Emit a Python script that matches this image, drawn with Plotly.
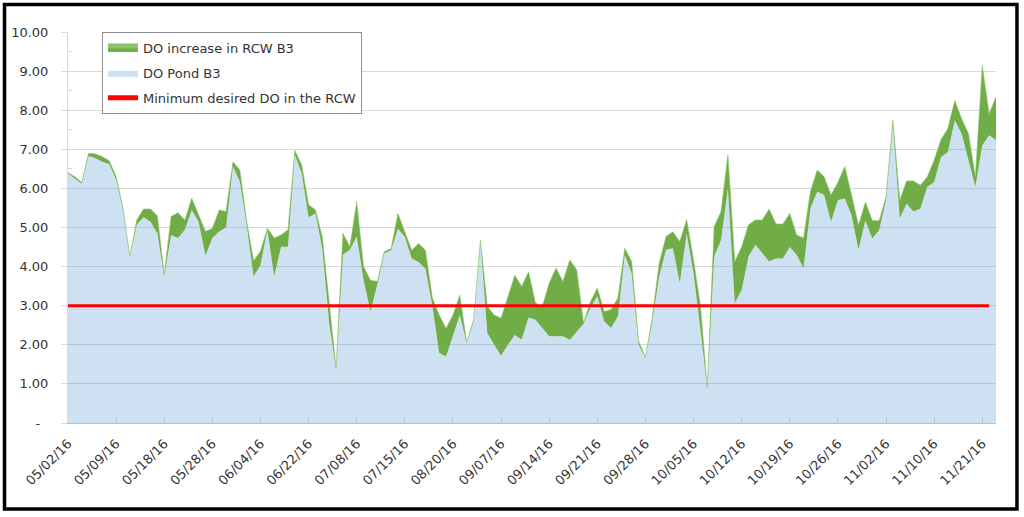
import plotly.graph_objects as go

# ---- data ----
day_index = list(range(136))

tick_labels = ["05/02/16", "05/09/16", "05/18/16", "05/28/16", "06/04/16",
               "06/22/16", "07/08/16", "07/15/16", "08/20/16", "09/07/16",
               "09/14/16", "09/21/16", "09/28/16", "10/05/16", "10/12/16",
               "10/19/16", "10/26/16", "11/02/16", "11/10/16", "11/21/16"]

do_pond_b3 = [6.38, 6.25, 6.12, 6.83, 6.77, 6.68, 6.62, 6.22, 5.45, 4.24,
              5.07, 5.26, 5.15, 4.85, 3.75, 4.81, 4.73, 4.94, 5.45, 5.15,
              4.28, 4.73, 4.90, 5.00, 6.56, 6.17, 5.05, 3.75, 4.04, 4.94,
              3.75, 4.51, 4.51, 6.86, 6.39, 5.26, 5.36, 4.45, 2.55, 1.36,
              4.30, 4.43, 4.77, 3.66, 2.85, 3.55, 4.34, 4.42, 4.97, 4.76,
              4.21, 4.12, 3.95, 3.00, 1.79, 1.70, 2.25, 2.76, 2.04, 2.60,
              4.65, 2.30, 2.00, 1.72, 2.00, 2.25, 2.13, 2.70, 2.64, 2.43,
              2.22, 2.22, 2.22, 2.13, 2.35, 2.54, 2.95, 3.24, 2.60, 2.43,
              2.73, 4.30, 3.83, 2.00, 1.66, 2.60, 3.75, 4.43, 4.47, 3.58,
              4.85, 3.83, 2.40, 0.88, 4.26, 4.68, 6.00, 3.06, 3.41, 4.26,
              4.56, 4.34, 4.13, 4.21, 4.21, 4.50, 4.30, 3.96, 5.49, 5.92,
              5.83, 5.15, 5.70, 5.74, 5.31, 4.43, 5.18, 4.72, 4.93, 5.70,
              7.65, 5.23, 5.61, 5.41, 5.48, 6.04, 6.16, 6.80, 6.93, 7.74,
              7.40, 6.72, 6.05, 7.10, 7.36, 7.23]

do_increase_rcw_b3 = [0.02, 0.05, 0.03, 0.07, 0.11, 0.13, 0.09, 0.08, 0.05, 0.02,
                      0.12, 0.21, 0.32, 0.45, 0.05, 0.47, 0.65, 0.25, 0.30, 0.17,
                      0.62, 0.25, 0.55, 0.41, 0.12, 0.30, 0.10, 0.40, 0.35, 0.04,
                      0.98, 0.30, 0.43, 0.11, 0.21, 0.32, 0.09, 0.30, 0.55, 0.04,
                      0.55, 0.08, 0.89, 0.34, 0.80, 0.07, 0.04, 0.04, 0.39, 0.13,
                      0.21, 0.47, 0.47, 0.20, 0.97, 0.72, 0.51, 0.51, 0.02, 0.04,
                      0.03, 0.68, 0.76, 0.96, 1.23, 1.53, 1.36, 1.17, 0.43, 0.55,
                      1.36, 1.74, 1.40, 2.04, 1.57, 0.02, 0.15, 0.21, 0.25, 0.47,
                      0.47, 0.17, 0.30, 0.10, 0.02, 0.10, 0.34, 0.34, 0.42, 1.06,
                      0.35, 0.34, 0.60, 0.02, 0.76, 0.73, 0.86, 1.07, 1.10, 0.81,
                      0.63, 0.85, 1.34, 0.88, 0.88, 0.86, 0.51, 0.77, 0.43, 0.55,
                      0.47, 0.68, 0.45, 0.82, 0.51, 0.63, 0.47, 0.46, 0.24, 0.08,
                      0.09, 0.47, 0.58, 0.78, 0.60, 0.25, 0.56, 0.45, 0.60, 0.51,
                      0.38, 0.68, 0.25, 2.04, 0.55, 1.11]

min_desired_do = 3.0
y_tick_values = [0, 1, 2, 3, 4, 5, 6, 7, 8, 9, 10]
y_tick_text = ["-\u00a0\u00a0", "1.00", "2.00", "3.00", "4.00", "5.00",
               "6.00", "7.00", "8.00", "9.00", "10.00"]
y_minor_values = [0.5, 1.5, 2.5, 3.5, 4.5, 5.5, 6.5, 7.5, 8.5, 9.5]

FONT = "DejaVu Sans, sans-serif"
TXT = "#333333"

fig = go.Figure()

fig.add_trace(go.Scatter(
    x=day_index, y=do_pond_b3, name="DO Pond B3",
    mode="lines", stackgroup="do", line=dict(width=0),
    fillcolor="rgba(91,155,213,0.30)",
    legendrank=2, legendgroup="b", hoverinfo="skip"))

fig.add_trace(go.Scatter(
    x=day_index, y=do_increase_rcw_b3, name="DO increase in RCW B3",
    mode="lines", stackgroup="do", line=dict(width=0.6, color="#8CC26A"),
    fillcolor="#70AD47",
    legendrank=1, legendgroup="a", hoverinfo="skip"))

fig.add_trace(go.Scatter(
    x=day_index[:-1], y=[min_desired_do] * len(day_index[:-1]),
    name="Minimum desired DO in the RCW",
    mode="lines", line=dict(color="#FF0000", width=3),
    legendrank=3, legendgroup="c", hoverinfo="skip"))

fig.update_layout(
    width=1024, height=517,
    margin=dict(l=68, r=28, t=32, b=94, autoexpand=False),
    paper_bgcolor="white", plot_bgcolor="white",
    font=dict(family=FONT, size=13, color=TXT),
    showlegend=True,
    legend=dict(
        x=0.0366, y=1.0, xanchor="left", yanchor="top",
        bgcolor="white", bordercolor="#8C8C8C", borderwidth=1,
        font=dict(family=FONT, size=13, color=TXT),
        tracegroupgap=5, itemsizing="constant",
    ),
    xaxis=dict(
        range=[0, 135], tickmode="array",
        tickvals=day_index[::7], ticktext=tick_labels,
        tickangle=-45, ticks="inside", ticklen=5, tickcolor="#BFBFBF",
        showline=True, linecolor="#BFBFBF", linewidth=1,
        showgrid=False, zeroline=False, ticklabelstandoff=7,
        tickfont=dict(family=FONT, size=13, color=TXT),
    ),
    yaxis=dict(
        range=[0, 10], tickmode="array",
        tickvals=y_tick_values, ticktext=y_tick_text,
        ticks="outside", ticklen=6, tickcolor="#D9D9D9",
        showline=True, linecolor="#D9D9D9", linewidth=1,
        gridcolor="#D9D9D9", gridwidth=1, zeroline=False,
        ticklabelstandoff=10,
        tickfont=dict(family=FONT, size=13, color=TXT),
        minor=dict(tickmode="array", tickvals=y_minor_values,
                   ticks="inside", ticklen=4, tickcolor="#D9D9D9",
                   showgrid=False),
    ),
    shapes=[dict(type="rect", xref="paper", yref="paper",
                 x0=-0.0684, x1=1.0226, y0=-0.22, y1=1.0703,
                 line=dict(color="black", width=3.5), layer="above")],
)

fig.write_html("out.html")
